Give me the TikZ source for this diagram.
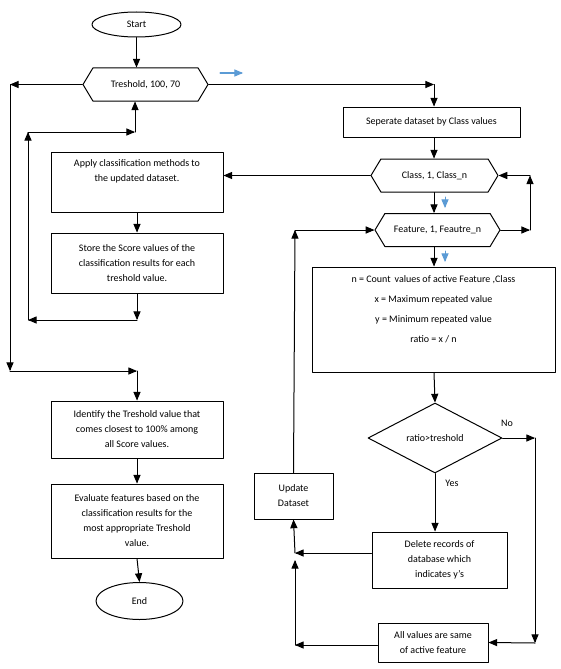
\documentclass[tikz,border=0pt]{standalone}
\usepackage{fontspec}
\setmainfont{Carlito}
\usetikzlibrary{arrows,shapes.geometric,shapes.symbols}
\definecolor{arrblue}{RGB}{91,155,213}
\tikzstyle{every node}=[font=\fontsize{10}{15}\selectfont]

\begin{document}
\begin{tikzpicture}[line cap=round,line join=round,>=triangle 45,x=1pt,y=-1pt,
  box/.style={draw,line width=1pt,rectangle,align=center,inner sep=2pt},
  term/.style={draw,line width=1pt,ellipse,inner sep=0pt},
  loopbox/.style={draw,line width=1pt,signal,signal to=west and east,signal pointer angle=118,inner sep=0pt,minimum height=33},
  ask/.style={draw,line width=1pt,diamond,inner sep=0pt},
  flow/.style={->,line width=1pt},
  stray/.style={->,line width=1pt,color=arrblue}]
\fill[white] (0,0) rectangle (561,669);
\useasboundingbox (0,0) rectangle (561,669);
\node[term,minimum width=89,minimum height=25] (start) at (136.5,24.5) {Start};
\node[loopbox,minimum width=125] (thr) at (145.5,84.5) {Treshold, 100, 70};
\node[box,minimum width=172,minimum height=60] (apply) at (137,182) {Apply classification methods to\\the updated dataset.\\[8pt]\mbox{}};
\node[box,minimum width=172,minimum height=60] (store) at (137,263) {Store the Score values of the\\classification results for each\\treshold value.};
\node[box,minimum width=172,minimum height=57] (ident) at (137,429.5) {Identify the Treshold value that\\comes closest to 100\% among\\all Score values.};
\node[box,minimum width=172,minimum height=74] (eval) at (137,521) {Evaluate features based on the\\classification results for the\\most appropriate Treshold\\value.};
\node[term,minimum width=87,minimum height=37] (end) at (139.5,601) {End};
\node[box,minimum width=177,minimum height=30] (sep) at (431.5,122) {Seperate dataset by Class values};
\node[loopbox,minimum width=127] (cls) at (434.5,175.5) {Class, 1, Class\_n};
\node[loopbox,minimum width=125] (feat) at (437.5,230) {Feature, 1, Feautre\_n};
\node[box,minimum width=243,minimum height=105,font=\fontsize{10}{20}\selectfont] (calc) at (433.5,319.5) {n = Count\, values of active Feature ,Class\\x = Maximum repeated value\\y = Minimum repeated value\\ratio = x / n\\\mbox{}};
\node[ask,minimum width=134,minimum height=70] (dia) at (435,438) {ratio>treshold};
\node[box,minimum width=135,minimum height=56] (del) at (439.5,560) {Delete records of\\database which\\indicates y's};
\node[box,minimum width=79,minimum height=46] (upd) at (293.5,496) {Update\\Dataset};
\node[box,minimum width=110,minimum height=39] (same) at (433,642.5) {All values are same\\of active feature};
\node (no) at (507,423) {No};
\node (yes) at (452,483) {Yes};
\coordinate (outL) at (10,84.5);
\coordinate (outLB) at (10,371);
\coordinate (outB) at (137,371);
\coordinate (backB) at (137,320);
\coordinate (backL) at (28,320);
\coordinate (backLT) at (28,132);
\coordinate (backT) at (135,132);
\coordinate (toSep) at (434,84.5);
\coordinate (featR) at (530,230);
\coordinate (clsR) at (530,175.5);
\coordinate (noR) at (535,438);
\coordinate (noRB) at (535,643);
\coordinate (updB) at (295,553);
\coordinate (updUp) at (295,560);
\coordinate (updBB) at (295,645);
\coordinate (updT) at (295,230);
\draw[flow] (start.south) -- (start.south |- thr.north);
\draw[flow] (thr.west) -- (outL);
\draw[flow] (outL) -- (outLB);
\draw[flow] (outLB) -- (outB);
\draw[flow] (outB) -- (ident.north);
\draw[flow] (apply.south) -- (store.north);
\draw[flow] (store.south) -- (backB);
\draw[flow] (backB) -- (backL);
\draw[flow] (backL) -- (backLT);
\draw[flow] (backLT) -- (backT);
\draw[flow] (backT) -- (backT |- thr.south);
\draw[flow] (ident.south) -- (eval.north);
\draw[flow] (eval.south) -- (end.north);
\draw[flow] (thr.east) -- (toSep);
\draw[flow] (toSep) -- (toSep |- sep.north);
\draw[flow] (sep.south -| toSep) -- (toSep |- cls.north);
\draw[flow] (cls.west) -- (cls.west -| apply.east);
\draw[flow] (toSep |- cls.south) -- (toSep |- feat.north);
\draw[flow] (feat.east) -- (featR);
\draw[flow] (featR) -- (clsR);
\draw[flow] (clsR) -- (cls.east);
\draw[flow] (toSep |- feat.south) -- (toSep |- calc.north);
\draw[flow] (toSep |- calc.south) -- (dia.north);
\draw[flow] (dia.east) -- (noR);
\draw[flow] (noR) -- (noRB);
\draw[flow] (noRB) -- (same.east);
\draw[flow] (dia.south) -- (dia.south |- del.north);
\draw[flow] (del.west |- updB) -- (updB);
\draw[flow] (updB) -- (upd.south);
\draw[flow] (same.west |- updBB) -- (updBB);
\draw[flow] (updBB) -- (updUp);
\draw[flow] (upd.north) -- (updT);
\draw[flow] (updT) -- (feat.west);
\draw[stray] (220,73) -- (243,73);
\draw[stray] (445,197) -- (445,208);
\draw[stray] (445,251) -- (445,262);
\end{tikzpicture}
\end{document}
